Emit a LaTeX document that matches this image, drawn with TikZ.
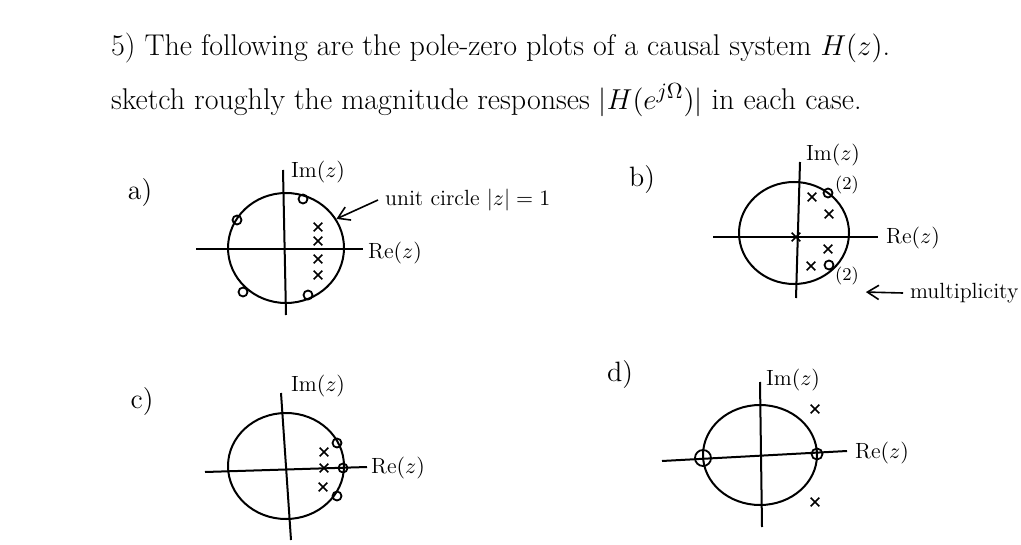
\documentclass[tikz,border=0pt]{standalone}
\usepackage{tikz}
\usetikzlibrary{arrows.meta}
\usetikzlibrary{shapes.geometric, shapes.misc}
\usepackage{amsmath}

\begin{document}
\begin{tikzpicture}[
    x=0.5pt, y=-0.5pt,
    unitcircle/.style={ellipse, draw, line width=1pt, inner sep=0pt},
    zero/.style={circle, draw, line width=0.9pt, minimum size=4.5pt, inner sep=0pt},
    pole/.style={cross out, draw, line width=0.8pt, minimum size=3.5pt, inner sep=0pt},
    axis/.style={line width=1pt},
    lbl/.style={font=\fontsize{11}{13}\selectfont},
    part/.style={font=\fontsize{14}{16}\selectfont},
    >={Straight Barb[length=2mm, width=2.5mm]}
]

\useasboundingbox (0,0) rectangle (1021,545);

% --- Question text ---
\node[anchor=west, font=\fontsize{15}{18}\selectfont] (line1) at (104,48)
    {5) The following are the pole-zero plots of a causal system $H(z)$.};
\node[anchor=west, font=\fontsize{15}{18}\selectfont] (line2) at (104,100)
    {sketch roughly the magnitude responses $|H(e^{j\Omega})|$ in each case.};

% --- a) ---
\node[part] (partA) at (140,193) {a)};
\node[unitcircle, minimum width=58pt, minimum height=55pt] (ucA) at (286,248) {};
\draw[axis] (196,249) -- (363,249);
\draw[axis] (283,170) -- (286,315);
\node[lbl] (imA) at (318,172) {Im$(z)$};
\node[lbl] (reA) at (395,253) {Re$(z)$};
\foreach \x/\y [count=\i] in {303/199, 237/220, 243/292, 308/295}
    \node[zero] (zA\i) at (\x,\y) {};
\foreach \y [count=\i] in {227,241,259,275}
    \node[pole] (pA\i) at (318,\y) {};
\node[lbl, anchor=west] (ucAtxt) at (378,200) {unit circle $|z| = 1$};
\draw[->, line width=0.8pt] (ucAtxt.west) -- (ucA.30);

% --- b) ---
\node[part] (partB) at (642,180) {b)};
\node[unitcircle, minimum width=55pt, minimum height=51pt] (ucB) at (794,233) {};
\draw[axis] (713,237) -- (878,237);
\draw[axis] (800,162) -- (796,298);
\node[lbl] (imB) at (833,155) {Im$(z)$};
\node[lbl] (reB) at (913,238) {Re$(z)$};
\foreach \x/\y [count=\i] in {796/237, 812/197, 829/214, 828/249, 811/266}
    \node[pole] (pB\i) at (\x,\y) {};
\node[zero] (zB1) at (828,193) {};
\node[zero] (zB2) at (829,265) {};
\node[lbl, font=\fontsize{9}{11}\selectfont] (mB1) at (847,185) {(2)};
\node[lbl, font=\fontsize{9}{11}\selectfont] (mB2) at (847,276) {(2)};
\node[lbl, anchor=west] (multB) at (903,293) {multiplicity};
\draw[->, line width=0.8pt] (multB.west) -- (mB2.south east);

% --- c) ---
\node[part] (partC) at (142,402) {c)};
\node[unitcircle, minimum width=58pt, minimum height=53pt] (ucC) at (286,466) {};
\draw[axis] (205,472) -- (367,467);
\draw[axis] (281,393) -- (291,540);
\node[lbl] (imC) at (318,386) {Im$(z)$};
\node[lbl] (reC) at (398,468) {Re$(z)$};
\foreach \x/\y [count=\i] in {337/443, 343/468, 337/496}
    \node[zero] (zC\i) at (\x,\y) {};
\foreach \x/\y [count=\i] in {324/452, 324/468, 323/487}
    \node[pole] (pC\i) at (\x,\y) {};

% --- d) ---
\node[part] (partD) at (620,375) {d)};
\node[unitcircle, minimum width=57pt, minimum height=50pt] (ucD) at (760,455) {};
\draw[axis] (662,461) -- (847,451);
\draw[axis] (760,382) -- (762,527);
\node[lbl] (imD) at (793,380) {Im$(z)$};
\node[lbl] (reD) at (882,453) {Re$(z)$};
\node[zero, minimum size=8pt] (zD1) at (703,458) {};
\node[zero, minimum size=5.5pt] (zD2) at (817,454) {};
\node[pole] (pD1) at (815,409) {};
\node[pole] (pD2) at (815,502) {};

\end{tikzpicture}
\end{document}
